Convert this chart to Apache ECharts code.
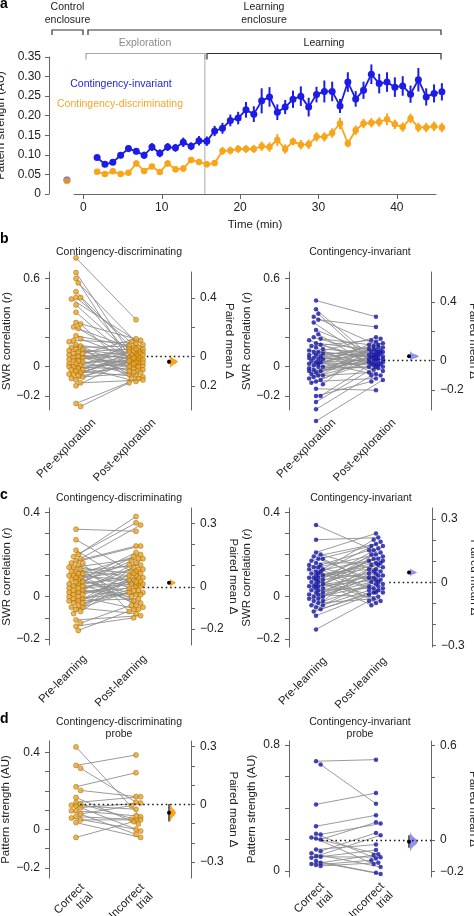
<!DOCTYPE html>
<html><head><meta charset="utf-8">
<script src="https://cdn.jsdelivr.net/npm/echarts@6/dist/echarts.min.js"></script>
<style>html,body{margin:0;padding:0;background:#fff}#c{width:474px;height:916px}</style>
</head><body><div id="c"></div>
<script>
// ---------------- DATA ----------------
// Panel a
const A_TIME = [1.75,2.75,3.75,4.75,5.75,6.75,7.75,8.75,9.75,10.75,11.75,12.75,13.75,14.75,15.75,16.75,17.75,18.75,19.75,20.75,21.75,22.75,23.75,24.75,25.75,26.75,27.75,28.75,29.75,30.75,31.75,32.75,33.75,34.75,35.75,36.75,37.75,38.75,39.75,40.75,41.75,42.75,43.75,44.75,45.75];
const INV_MEAN = [0.093,0.076,0.081,0.099,0.116,0.109,0.099,0.120,0.104,0.120,0.118,0.132,0.122,0.136,0.135,0.161,0.168,0.188,0.194,0.215,0.204,0.238,0.248,0.209,0.222,0.242,0.250,0.222,0.254,0.262,0.262,0.225,0.286,0.243,0.265,0.306,0.282,0.286,0.273,0.276,0.255,0.292,0.248,0.257,0.261];
const INV_ERR = [0.006,0.006,0.007,0.008,0.009,0.008,0.009,0.010,0.010,0.010,0.010,0.012,0.010,0.012,0.012,0.013,0.014,0.015,0.016,0.020,0.020,0.032,0.025,0.020,0.018,0.022,0.025,0.024,0.020,0.028,0.025,0.018,0.025,0.020,0.022,0.025,0.025,0.025,0.025,0.025,0.022,0.030,0.022,0.023,0.022];
const DIS_MEAN = [0.057,0.051,0.058,0.051,0.054,0.078,0.059,0.070,0.056,0.078,0.063,0.065,0.087,0.082,0.076,0.079,0.110,0.111,0.115,0.115,0.115,0.122,0.120,0.138,0.115,0.134,0.126,0.127,0.146,0.146,0.156,0.180,0.129,0.163,0.180,0.182,0.184,0.191,0.178,0.171,0.193,0.170,0.170,0.173,0.170];
const DIS_ERR = [0.005,0.005,0.005,0.005,0.006,0.008,0.006,0.006,0.007,0.008,0.008,0.008,0.008,0.008,0.008,0.008,0.010,0.010,0.010,0.010,0.010,0.012,0.012,0.015,0.012,0.010,0.012,0.012,0.012,0.012,0.012,0.015,0.010,0.012,0.012,0.012,0.012,0.015,0.012,0.012,0.012,0.012,0.012,0.012,0.012];
const CONTROL_TIME = -2.1;
const CONTROL_INV = 0.036;
const CONTROL_DIS = 0.034;
const BASELINE = 0.035;
const EXPLORATION_END = 15.5;
const A_X_TICKS = [0,10,20,30,40];
const A_Y_TICKS = [0,0.05,0.1,0.15,0.2,0.25,0.3,0.35];

// Panel b
const B_CATS = ['Pre-exploration','Post-exploration'];
const B_DISC_PRE = [0.74,0.64,0.60,0.57,0.51,0.47,0.47,0.46,0.42,0.37,0.30,0.29,0.27,0.26,0.21,
 0.19,0.18,0.17,0.15,0.14,0.13,0.12,0.12,0.11,0.10,0.09,0.09,0.08,0.07,0.06,0.06,0.05,0.04,0.04,0.03,0.02,0.02,0.01,0.00,0.00,-0.01,-0.02,-0.02,-0.03,-0.04,-0.05,-0.05,-0.06,-0.07,-0.08,-0.09,-0.11,-0.13,
 -0.25,-0.27];
const B_DISC_POST = [0.32,0.08,0.02,0.12,0.05,0.10,-0.02,0.15,0.04,0.06,0.18,-0.04,0.11,0.01,0.13,
 0.03,0.16,-0.05,0.09,0.00,0.14,0.07,-0.08,0.05,0.12,-0.01,0.19,0.06,-0.03,0.10,0.02,0.08,-0.06,0.13,0.04,-0.10,0.07,0.01,0.11,-0.02,0.05,0.17,0.03,-0.07,0.09,0.00,0.06,0.12,-0.04,0.02,0.08,-0.09,0.04,
 -0.08,-0.11];
const B_INV_PRE = [0.45,0.39,0.36,0.34,0.32,0.30,0.25,0.22,
 0.20,0.19,0.18,0.16,0.15,0.14,0.13,0.12,0.11,0.10,0.09,0.08,0.08,0.07,0.06,0.05,0.05,0.04,0.03,0.02,0.02,0.01,0.00,0.00,-0.01,-0.02,-0.03,-0.03,-0.04,-0.05,-0.06,-0.06,-0.07,-0.08,-0.09,-0.10,-0.11,-0.12,0.03,0.06,0.10,
 -0.15,-0.20,-0.20,-0.24,-0.29,-0.37];
const B_INV_POST = [0.34,0.08,0.05,0.13,0.27,0.02,0.10,-0.03,
 0.07,0.15,0.00,0.12,0.04,0.18,-0.05,0.09,0.06,0.20,0.01,0.11,-0.02,0.14,0.03,0.08,0.16,-0.06,0.05,0.10,0.02,0.13,0.07,-0.01,0.17,0.04,0.09,0.00,0.12,0.06,-0.04,0.11,0.03,0.15,0.08,-0.08,0.05,0.19,0.01,0.10,0.07,
 -0.16,-0.10,0.02,0.00,-0.06,-0.09];

// Panel c
const C_CATS = ['Pre-learning','Post-learning'];
const C_DISC_PRE = [0.32,0.27,0.22,
 0.20,0.19,0.18,0.17,0.16,0.15,0.14,0.13,0.12,0.12,0.11,0.10,0.10,0.09,0.08,0.08,0.07,0.06,0.06,0.05,0.04,0.04,0.03,0.02,0.02,0.01,0.00,0.00,-0.01,-0.02,-0.02,-0.03,-0.04,-0.05,-0.05,-0.06,-0.07,-0.08,0.11,0.05,0.09,0.03,0.14,-0.01,0.07,0.16,0.01,-0.03,
 -0.11,-0.14,-0.16,-0.125];
const C_DISC_POST = [0.31,0.12,0.06,
 0.38,0.35,0.34,0.24,0.24,0.05,0.18,-0.02,0.10,0.15,0.03,0.20,0.08,-0.05,0.13,0.01,0.17,0.09,-0.03,0.11,0.06,0.19,0.00,0.14,0.04,0.07,-0.06,0.16,0.02,0.12,-0.01,0.09,0.05,-0.08,0.13,0.03,0.10,0.18,-0.04,0.07,0.15,0.01,0.11,0.06,0.21,-0.07,0.08,0.02,
 -0.09,-0.10,-0.06,-0.04];
const C_INV_PRE = [0.34,0.27,
 0.21,0.20,0.19,0.18,0.17,0.16,0.15,0.14,0.14,0.13,0.12,0.11,0.11,0.10,0.09,0.09,0.08,0.07,0.07,0.06,0.05,0.05,0.04,0.03,0.03,0.02,0.01,0.01,0.00,-0.01,-0.01,-0.02,-0.03,-0.04,-0.05,-0.06,0.12,0.08,0.04,0.10,0.02,0.15,0.06,-0.02,0.18,0.00,0.13,0.05,0.09,-0.04,
 -0.09,-0.155,-0.07];
const C_INV_POST = [0.22,0.28,
 0.30,0.12,0.25,0.06,0.24,0.16,0.22,0.03,0.20,0.27,0.18,0.09,0.26,0.14,0.01,0.21,0.11,0.19,-0.02,0.15,0.23,0.08,0.13,0.17,0.04,0.10,0.00,0.16,0.07,0.12,0.05,0.09,-0.01,0.06,0.03,0.02,-0.03,-0.04,0.20,0.15,0.11,0.07,0.18,0.13,0.05,0.24,0.02,0.10,0.17,0.08,
 0.02,-0.02,0.04];

// Panel d
const D_CATS = ['Correct\ntrial','Incorrect\ntrial'];
const D_DISC_CORRECT = [0.428,0.332,0.317,0.221,0.202,0.165,0.139,0.132,0.125,0.122,0.113,0.096,0.096,0.080,0.066,0.059,0.049,0.035,-0.042];
const D_DISC_INCORRECT = [0.065,0.386,0.141,0.294,0.170,0.028,0.169,0.050,0.104,-0.009,0.136,0.070,-0.026,0.123,0.052,0.000,0.049,-0.042,0.040];
const D_INV_CORRECT = [0.697,0.676,0.423,0.284,0.236,0.232,0.213,0.206,0.200,0.137,0.126,0.112,0.093,0.090,0.084,0.063,0.044,0.038,0.032,0.053];
const D_INV_INCORRECT = [0.707,0.427,0.495,0.354,0.080,0.301,0.107,0.044,0.309,0.168,0.242,0.025,0.227,0.088,0.133,-0.011,0.101,0.069,0.053,-0.019];

// Paired mean differences: [reference mean (left units), delta, ci low, ci high]
const B_DISC_DELTA = [0.068,-0.034,-0.048,-0.020];
const B_INV_DELTA = [0.041,0.030,0.020,0.040];
const C_DISC_DELTA = [0.047,0.019,0.012,0.026];
const C_INV_DELTA = [0.068,0.047,0.040,0.055];
const D_DISC_DELTA = [0.130,-0.044,-0.090,0.002];
const D_INV_DELTA = [0.197,-0.011,-0.050,0.030];
// relative density of the bootstrap distribution (offset, density)
const VIOLIN_PROFILE = [[-1,0],[-0.75,0.12],[-0.5,0.38],[-0.25,0.78],[0,1],[0.25,0.78],[0.5,0.38],[0.75,0.12],[1,0]];

// ---------------- STYLE / LAYOUT ----------------
const FONT = '"Liberation Sans", Arial, Helvetica, sans-serif';
const TXT = '#222';
const AX = '#666';
const BLUE_A = '#1c1ce8', ORANGE_A = '#f9a51a';
const ORANGE_PT = '#f0a520', ORANGE_EDGE = '#94640f', BLUE_PT = '#1616a6';
const BLUE_VIOLIN = '#7474f2';
const LINE_GRAY = '#8e8e8e';
const TICK_FS = 12, NAME_FS = 11.5;

function fmt(v, noMinus){
  if (Math.abs(v) < 1e-9) return '0';
  const s = Math.abs(v).toFixed(1);
  return (v < 0 && !noMinus ? '\u2212' : '') + s;
}

function swarm(vals, ppuY, ppuX, d, maxPx){
  const idx = vals.map((v,i)=>i).sort((a,b)=>vals[b]-vals[a]);
  const placed = [];
  const off = new Array(vals.length).fill(0);
  const cands = [0];
  for (let k=1; k*d*0.5<=maxPx; k++){ cands.push(k*d*0.5, -k*d*0.5); }
  for (const i of idx){
    const y = vals[i]*ppuY;
    let best = 0, bestScore = -1;
    for (const c of cands){
      let minD = Infinity;
      for (const p of placed){ const dd = Math.hypot(p[0]-c, p[1]-y); if (dd<minD) minD = dd; }
      if (minD >= d){ best = c; bestScore = Infinity; break; }
      if (minD > bestScore){ bestScore = minD; best = c; }
    }
    placed.push([best, y]);
    off[i] = best/ppuX;
  }
  return off;
}

const option = {
  animation:false,
  textStyle:{fontFamily:FONT},
  grid:[], xAxis:[], yAxis:[], series:[], graphic:[]
};

// ---------- Panel a ----------
option.grid.push({left:74, top:57, width:362, height:137, containLabel:false, outerBoundsMode:'none'});
option.xAxis.push({gridIndex:0, type:'value', min:-1.2, max:45,
  axisLine:{show:true, onZero:false, lineStyle:{color:AX}},
  axisTick:{show:true, customValues:A_X_TICKS, length:5, lineStyle:{color:AX}},
  axisLabel:{customValues:A_X_TICKS, margin:8, fontSize:TICK_FS, color:TXT, fontFamily:FONT},
  splitLine:{show:false},
  name:'Time (min)', nameLocation:'middle', nameGap:25,
  nameTextStyle:{fontSize:NAME_FS, color:TXT, fontFamily:FONT}});
option.yAxis.push({gridIndex:0, type:'value', min:0, max:0.35, offset:25,
  axisLine:{show:true, onZero:false, lineStyle:{color:AX}},
  axisTick:{show:true, customValues:A_Y_TICKS, length:4, lineStyle:{color:AX}},
  axisLabel:{customValues:A_Y_TICKS, margin:8, fontSize:TICK_FS, color:TXT, fontFamily:FONT,
    formatter:v=> Math.abs(v)<1e-9 ? '0' : v.toFixed(2)},
  splitLine:{show:false},
  name:'Pattern strength (AU)', nameLocation:'middle', nameGap:33,
  nameTextStyle:{fontSize:NAME_FS, color:TXT, fontFamily:FONT}});

// exploration/learning boundary
option.series.push({type:'custom', xAxisIndex:0, yAxisIndex:0, clip:false, silent:true, z:1,
  data:[[EXPLORATION_END, 0, 0.36]],
  renderItem:(p, api)=>{
    const a = api.coord([api.value(0), api.value(1)]), b = api.coord([api.value(0), api.value(2)]);
    return {type:'line', shape:{x1:a[0], y1:a[1], x2:b[0], y2:b[1]}, style:{stroke:'#b0b0b0', lineWidth:1.1}};
  }});

function errSeries(times, means, errs, color){
  return {type:'custom', xAxisIndex:0, yAxisIndex:0, clip:false, silent:true, z:2,
    data: times.map((t,i)=>[t, means[i], errs[i]]),
    renderItem:(p, api)=>{
      const t = api.value(0), m = api.value(1), e = api.value(2);
      const a = api.coord([t, m-e]), b = api.coord([t, m+e]);
      return {type:'line', shape:{x1:a[0], y1:a[1], x2:b[0], y2:b[1]}, style:{stroke:color, lineWidth:2}};
    }};
}
option.series.push(errSeries(A_TIME, INV_MEAN, INV_ERR, BLUE_A));
option.series.push(errSeries(A_TIME, DIS_MEAN, DIS_ERR, ORANGE_A));
option.series.push({type:'line', name:'Contingency-invariant', xAxisIndex:0, yAxisIndex:0, clip:false, z:3,
  data:A_TIME.map((t,i)=>[t, INV_MEAN[i]]), symbol:'circle', symbolSize:7,
  itemStyle:{color:BLUE_A}, lineStyle:{color:BLUE_A, width:1.8}});
option.series.push({type:'line', name:'Contingency-discriminating', xAxisIndex:0, yAxisIndex:0, clip:false, z:3,
  data:A_TIME.map((t,i)=>[t, DIS_MEAN[i]]), symbol:'circle', symbolSize:6.5,
  itemStyle:{color:ORANGE_A}, lineStyle:{color:ORANGE_A, width:1.8}});
option.series.push({type:'scatter', xAxisIndex:0, yAxisIndex:0, clip:false, z:4,
  data:[[CONTROL_TIME, CONTROL_INV]], symbolSize:7, itemStyle:{color:BLUE_A},
  markLine:{silent:true, symbol:['none','none'], label:{show:false},
    lineStyle:{color:'#4b2d69', width:1.6, type:[4,4]},
    data:[[{coord:[CONTROL_TIME, BASELINE]}, {coord:[45.2, BASELINE]}]]}});
option.series.push({type:'scatter', xAxisIndex:0, yAxisIndex:0, clip:false, z:5,
  data:[[CONTROL_TIME, CONTROL_DIS]], symbolSize:7, itemStyle:{color:ORANGE_A}});

// ---------- Panels b, c, d ----------
const XMIN = -0.45, PPUX = 60;
const panels = [
  {grid:{left:49, top:272, width:142, height:138}, y0px:366.7, ppuY:147,
   leftTicks:[-0.2,0,0.2,0.4,0.6], leftLabels:[-0.2,0,0.6], rightTicks:[-0.2,0,0.2,0.4], rightLabels:[-0.2,0,0.4], noMinusRight:true,
   a:B_DISC_PRE, b:B_DISC_POST, cats:B_CATS, delta:B_DISC_DELTA, orange:true, lineStart:1.18,
   shift:18, margin:11, maxPx:7, leftName:'SWR correlation ({i|r})', leftGap:31, rightGap:32, spread:0.045, vw:8},
  {grid:{left:289, top:272, width:142, height:138}, y0px:366.7, ppuY:147,
   leftTicks:[-0.2,0,0.2,0.4,0.6], leftLabels:[-0.2,0,0.6], rightTicks:[-0.2,0,0.2,0.4], rightLabels:[-0.2,0,0.4],
   a:B_INV_PRE, b:B_INV_POST, cats:B_CATS, delta:B_INV_DELTA, orange:false, lineStart:1.13,
   shift:18, margin:11, maxPx:7, leftName:'SWR correlation ({i|r})', leftGap:34, rightGap:30, spread:0.035, vw:9},
  {grid:{left:49, top:508, width:142, height:137}, y0px:596.7, ppuY:211,
   leftTicks:[-0.2,-0.1,0,0.1,0.2,0.3,0.4], leftLabels:[-0.2,0,0.4], rightTicks:[-0.2,-0.1,0,0.1,0.2,0.3], rightLabels:[-0.2,0,0.3],
   a:C_DISC_PRE, b:C_DISC_POST, cats:C_CATS, delta:C_DISC_DELTA, orange:true, lineStart:1.12,
   shift:9, margin:12, maxPx:9, leftName:'SWR correlation ({i|r})', leftGap:31, rightGap:32, spread:0.02, vw:6},
  {grid:{left:289, top:508, width:143, height:139}, y0px:596.7, ppuY:211,
   leftTicks:[-0.2,-0.1,0,0.1,0.2,0.3,0.4], leftLabels:[-0.2,0,0.4], rightTicks:[-0.3,-0.2,-0.1,0,0.1,0.2,0.3], rightLabels:[-0.3,0,0.3],
   a:C_INV_PRE, b:C_INV_POST, cats:C_CATS, delta:C_INV_DELTA, orange:false, lineStart:1.22,
   shift:9, margin:12, maxPx:9, leftName:'SWR correlation ({i|r})', leftGap:34, rightGap:29, spread:0.02, vw:7},
  {grid:{left:49, top:741, width:142, height:137}, y0px:829.3, ppuY:192.5,
   leftTicks:[-0.2,-0.1,0,0.1,0.2,0.3,0.4], leftLabels:[-0.2,0,0.4], rightTicks:[-0.3,-0.2,-0.1,0,0.1,0.2,0.3], rightLabels:[-0.3,0,0.3],
   a:D_DISC_CORRECT, b:D_DISC_INCORRECT, cats:D_CATS, delta:D_DISC_DELTA, orange:true, lineStart:0.07,
   shift:11, margin:12, maxPx:6, leftName:'Pattern strength (AU)', leftGap:37, rightGap:31, spread:0.05, vw:6},
  {grid:{left:289, top:741, width:142, height:136}, y0px:871, ppuY:157.5,
   leftTicks:[0,0.2,0.4,0.6,0.8], leftLabels:[0,0.8], rightTicks:[-0.2,0,0.2,0.4,0.6], rightLabels:[-0.2,0,0.6],
   a:D_INV_CORRECT, b:D_INV_INCORRECT, cats:D_CATS, delta:D_INV_DELTA, orange:false, lineStart:0.1,
   shift:11, margin:12, maxPx:6, leftName:'Pattern strength (AU)', leftGap:31, rightGap:29, spread:0.065, vw:8}
];

panels.forEach((P, i)=>{
  const g = i+1;
  const top = P.grid.top, bottom = P.grid.top + P.grid.height;
  const yMin = -(bottom - P.y0px)/P.ppuY, yMax = (P.y0px - top)/P.ppuY;
  const xMax = XMIN + P.grid.width/PPUX;
  const ref = P.delta[0];
  option.grid.push(Object.assign({containLabel:false, outerBoundsMode:'none'}, P.grid));
  const xMain = option.xAxis.length;
  option.xAxis.push({gridIndex:g, type:'value', min:XMIN, max:xMax, show:false});
  const sh = P.shift/PPUX;
  option.xAxis.push({gridIndex:g, type:'value', min:XMIN-sh, max:xMax-sh, position:'bottom',
    axisLine:{show:false}, axisTick:{show:false}, splitLine:{show:false},
    axisLabel:{customValues:[0,1], formatter:v=>P.cats[Math.round(v)], rotate:45, margin:P.margin,
      fontSize:11.5, lineHeight:12.5, color:TXT, fontFamily:FONT}});
  const yL = option.yAxis.length;
  option.yAxis.push({gridIndex:g, type:'value', position:'left', min:yMin, max:yMax,
    axisLine:{show:true, onZero:false, lineStyle:{color:AX}},
    axisTick:{show:true, customValues:P.leftTicks, length:4, lineStyle:{color:AX}},
    axisLabel:{customValues:P.leftLabels, formatter:v=>fmt(v), margin:9, fontSize:TICK_FS, color:TXT, fontFamily:FONT},
    splitLine:{show:false},
    name:P.leftName, nameLocation:'middle', nameGap:P.leftGap,
    nameTextStyle:{fontSize:NAME_FS, color:TXT, fontFamily:FONT, rich:{i:{fontStyle:'italic', fontSize:NAME_FS, fontFamily:FONT, color:TXT}}}});
  option.yAxis.push({gridIndex:g, type:'value', position:'right', min:yMin-ref, max:yMax-ref,
    axisLine:{show:true, onZero:false, lineStyle:{color:AX}},
    axisTick:{show:true, customValues:P.rightTicks, length:4, lineStyle:{color:AX}},
    axisLabel:{customValues:P.rightLabels, formatter:v=>fmt(v, P.noMinusRight), margin:9, fontSize:TICK_FS, color:TXT, fontFamily:FONT},
    splitLine:{show:false},
    name:'Paired mean \u0394', nameLocation:'middle', nameGap:P.rightGap, nameRotate:-90,
    nameTextStyle:{fontSize:NAME_FS, color:TXT, fontFamily:FONT}});
  const yR = yL+1;

  const offA = swarm(P.a, P.ppuY, PPUX, 4.6, P.maxPx);
  const offB = swarm(P.b, P.ppuY, PPUX, 4.6, P.maxPx);
  // pair lines
  option.series.push({type:'custom', xAxisIndex:xMain, yAxisIndex:yL, clip:false, silent:true, z:1,
    data:P.a.map((v,k)=>[offA[k], v, 1+offB[k], P.b[k]]),
    renderItem:(p, api)=>{
      const s = api.coord([api.value(0), api.value(1)]), e = api.coord([api.value(2), api.value(3)]);
      return {type:'line', shape:{x1:s[0], y1:s[1], x2:e[0], y2:e[1]}, style:{stroke:LINE_GRAY, lineWidth:0.9}};
    }});
  const ptStyle = P.orange ? {color:ORANGE_PT, borderColor:ORANGE_EDGE, borderWidth:0.6} : {color:BLUE_PT};
  const ptSize = P.orange ? 5 : 4.5;
  option.series.push({type:'scatter', xAxisIndex:xMain, yAxisIndex:yL, clip:false, silent:true, z:3,
    data:P.a.map((v,k)=>[offA[k], v]), symbolSize:ptSize, itemStyle:ptStyle});
  option.series.push({type:'scatter', xAxisIndex:xMain, yAxisIndex:yL, clip:false, silent:true, z:3,
    data:P.b.map((v,k)=>[1+offB[k], v]), symbolSize:ptSize, itemStyle:ptStyle,
    markLine:{silent:true, symbol:['none','none'], label:{show:false},
      lineStyle:{color:'#111', width:1.3, type:[1.5,3]},
      data:[[{coord:[P.lineStart, ref]}, {coord:[xMax, ref]}]]}});
  // paired mean difference with bootstrap distribution
  const vColor = P.orange ? ORANGE_A : BLUE_VIOLIN;
  const vOpacity = P.orange ? 1 : 0.8;
  option.series.push({type:'custom', xAxisIndex:xMain, yAxisIndex:yR, clip:false, silent:true, z:4,
    data:[[1.55, P.delta[1], P.delta[2], P.delta[3]]],
    renderItem:(p, api)=>{
      const x = api.value(0), d = api.value(1), lo = api.value(2), hi = api.value(3);
      const base = api.coord([x, d]);
      const pts = [];
      const bot = api.coord([x, d - P.spread]), tp = api.coord([x, d + P.spread]);
      pts.push([base[0]+1, bot[1]]);
      VIOLIN_PROFILE.forEach(([o, w])=>{
        const q = api.coord([x, d + o*P.spread]);
        pts.push([base[0] + 1 + w*P.vw, q[1]]);
      });
      pts.push([base[0]+1, tp[1]]);
      const a = api.coord([x, lo]), b = api.coord([x, hi]);
      return {type:'group', children:[
        {type:'polygon', shape:{points:pts}, style:{fill:vColor, opacity:vOpacity}},
        {type:'line', shape:{x1:base[0], y1:a[1], x2:base[0], y2:b[1]}, style:{stroke:'#000', lineWidth:1.2}},
        {type:'circle', shape:{cx:base[0], cy:base[1], r:2}, style:{fill:'#000'}}
      ]};
    }});
});

// ---------- annotations ----------
function txt(x, y, s, opts){
  return Object.assign({type:'text', x:x, y:y, silent:true,
    style:Object.assign({text:s, textAlign:'center', textVerticalAlign:'middle',
      font:'11px ' + FONT, fill:TXT}, opts||{})});
}
function bracket(x1, x2, y, h, color){
  return {type:'polyline', silent:true,
    shape:{points:[[x1, y+h],[x1, y],[x2, y],[x2, y+h]]},
    style:{stroke:color, lineWidth:1.2, fill:null}};
}
const bold = {font:'bold 14px ' + FONT, fill:'#000', textAlign:'left'};
const ANN = '10.5px ' + FONT;
option.graphic = [
  txt(0, 4, 'a', bold),
  txt(0, 239, 'b', bold),
  txt(0, 495, 'c', bold),
  txt(0, 719, 'd', bold),
  txt(67.5, 13.5, 'Control\nenclosure', {font:ANN, lineHeight:13}),
  txt(264, 13.5, 'Learning\nenclosure', {font:ANN, lineHeight:13}),
  bracket(52, 83, 30, 5, '#333'),
  bracket(88, 441, 30, 5, '#333'),
  txt(145, 43, 'Exploration', {font:ANN, fill:'#8a8a8a'}),
  txt(324, 43, 'Learning', {font:ANN, fill:'#222'}),
  bracket(86, 205, 53.5, 6, '#a8a8a8'),
  bracket(207, 441, 53.5, 6, '#333'),
  txt(121, 84, 'Contingency-invariant', {font:ANN, fill:'#2424dc'}),
  txt(120, 104, 'Contingency-discriminating', {font:ANN, fill:'#f6a52a'}),
  txt(119, 252, 'Contingency-discriminating', {font:ANN}),
  txt(360, 252, 'Contingency-invariant', {font:ANN}),
  txt(119, 498, 'Contingency-discriminating', {font:ANN}),
  txt(361, 498, 'Contingency-invariant', {font:ANN}),
  txt(119, 728.5, 'Contingency-discriminating\nprobe', {font:ANN, lineHeight:12}),
  txt(360, 728.5, 'Contingency-invariant\nprobe', {font:ANN, lineHeight:12})
];

const chart = echarts.init(document.getElementById('c'), null, {renderer:'canvas'});
chart.setOption(option);
</script></body></html>
